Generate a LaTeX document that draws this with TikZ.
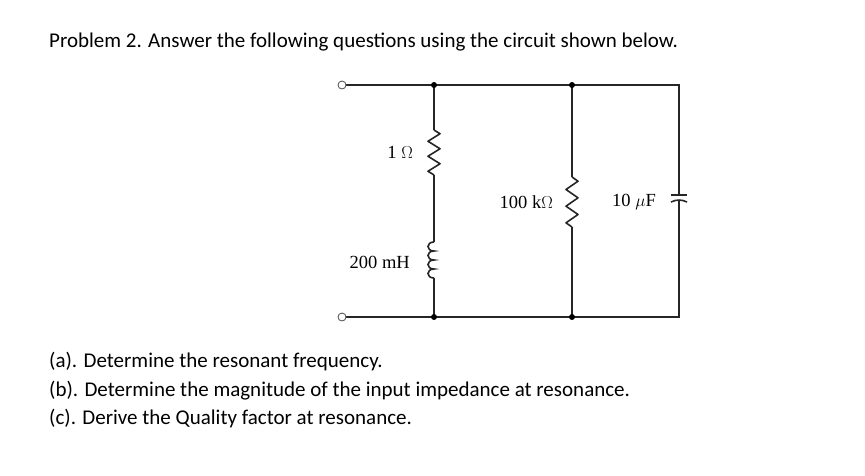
\documentclass[tikz,border=0pt]{standalone}
\usepackage{fontspec}
\setmainfont{Carlito}
\newfontfamily\circfont{Liberation Serif}
\begin{document}
\begin{tikzpicture}[x=1pt,y=-1pt,
  wire/.style={line width=1.6pt,black!85},
  dot/.style={circle,fill=black,inner sep=0pt,minimum size=6pt},
  term/.style={circle,draw=black!70,fill=white,inner sep=0pt,minimum size=8pt,line width=0.8pt},
  lab/.style={font=\circfont\fontsize{18.5}{20}\selectfont,anchor=east,inner sep=0pt},
  txt/.style={font=\fontsize{21}{24}\selectfont,anchor=west,inner sep=0pt}]
\useasboundingbox (0,0) rectangle (865,475);
\fill[white] (0,0) rectangle (865,475);
\node[txt] (title) at (49,42) {Problem 2. Answer the following questions using the circuit shown below.};
\node[txt] (qa) at (49,362) {(a). Determine the resonant frequency.};
\node[txt] (qb) at (49,391) {(b). Determine the magnitude of the input impedance at resonance.};
\node[txt] (qc) at (49,419) {(c). Derive the Quality factor at resonance.};
% coordinates
\coordinate (TL) at (342,85); \coordinate (BL) at (342,317);
\coordinate (A) at (434,85); \coordinate (B) at (572,85); \coordinate (C) at (679,85);
\coordinate (A2) at (434,317); \coordinate (B2) at (572,317); \coordinate (C2) at (679,317);
\coordinate (r1t) at (434,130); \coordinate (r1b) at (434,175);
\coordinate (lt) at (434,242); \coordinate (lb) at (434,278);
\coordinate (r2t) at (572,177); \coordinate (r2b) at (572,227);
\coordinate (ct) at (679,195); \coordinate (cb) at (679,200);
\draw[wire] (TL) -- (C) -- (ct);
\draw[wire] (BL) -- (C2) -- (cb);
\draw[wire] (A) -- (r1t);
\draw[wire,line join=round] (r1t) -- ++(6,3.75) -- ++(-12,7.5) -- ++(12,7.5) -- ++(-12,7.5) -- ++(12,7.5) -- ++(-12,7.5) -- (r1b);
\draw[wire] (r1b) -- (lt);
\draw[wire] (lt) .. controls (426,242) and (426,251) .. (434,251)
  .. controls (426,251) and (426,260) .. (434,260)
  .. controls (426,260) and (426,269) .. (434,269)
  .. controls (426,269) and (426,278) .. (lb);
\draw[wire] (lb) -- (A2);
\draw[wire] (B) -- (r2t);
\draw[wire,line join=round] (r2t) -- ++(6,4.17) -- ++(-12,8.33) -- ++(12,8.33) -- ++(-12,8.33) -- ++(12,8.33) -- ++(-12,8.33) -- (r2b);
\draw[wire] (r2b) -- (B2);
\draw[wire] (ct) ++(-8,0) -- ++(16,0);
\draw[wire] (cb) ++(-8,2) to[bend left=25] ++(16,0);
\node[term] (t1) at (TL) {}; \node[term] (t2) at (BL) {};
\foreach \p in {A,B,A2,B2} \node[dot] at (\p) {};
\node[lab] (l1) at (413,152) {1 $\Omega$};
\node[lab] (l2) at (410,262) {200 mH};
\node[lab] (l3) at (553,202) {100 k$\Omega$};
\node[lab] (l4) at (656,202) {10 $\mu$F};
\end{tikzpicture}
\end{document}
